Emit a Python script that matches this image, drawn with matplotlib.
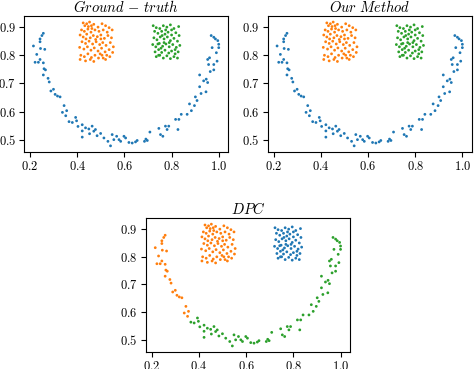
import numpy as np
import matplotlib
matplotlib.use("Agg")
import matplotlib.pyplot as plt

plt.rcParams['font.family'] = 'serif'
plt.rcParams['font.serif'] = ['cmr10']
plt.rcParams['mathtext.fontset'] = 'cm'
plt.rcParams['axes.formatter.use_mathtext'] = True

# arc ("smile") points
arc_x = [0.214, 0.228, 0.221, 0.235, 0.242, 0.242, 0.256, 0.250, 0.244, 0.262,
         0.242, 0.256, 0.259, 0.265, 0.256, 0.276, 0.281, 0.288, 0.299, 0.306,
         0.316, 0.327, 0.344, 0.337, 0.355, 0.351, 0.365, 0.379, 0.393, 0.397,
         0.403, 0.421, 0.421, 0.435, 0.449, 0.463, 0.470, 0.477, 0.421, 0.452,
         0.484, 0.499, 0.513, 0.530, 0.541, 0.548, 0.555, 0.567, 0.577, 0.584,
         0.598, 0.605, 0.619, 0.633, 0.647, 0.654, 0.685, 0.691, 0.697, 0.708,
         0.746, 0.753, 0.763, 0.774, 0.781, 0.788, 0.817, 0.827, 0.831, 0.841,
         0.866, 0.876, 0.884, 0.897, 0.901, 0.908, 0.919, 0.925, 0.936, 0.946,
         0.947, 0.953, 0.919, 0.953, 0.957, 0.961, 0.964, 0.972, 0.979, 0.979,
         0.986, 0.990, 0.993, 1.000, 1.000, 0.968, 0.979, 0.996]
arc_y = [0.833, 0.803, 0.775, 0.775, 0.858, 0.848, 0.878, 0.870, 0.824, 0.821,
         0.785, 0.773, 0.752, 0.748, 0.730, 0.718, 0.705, 0.673, 0.679, 0.661,
         0.655, 0.652, 0.621, 0.597, 0.603, 0.585, 0.564, 0.561, 0.579, 0.567,
         0.547, 0.553, 0.531, 0.542, 0.538, 0.548, 0.530, 0.536, 0.509, 0.521,
         0.514, 0.522, 0.506, 0.494, 0.478, 0.518, 0.500, 0.512, 0.500, 0.494,
         0.512, 0.506, 0.490, 0.488, 0.492, 0.497, 0.494, 0.502, 0.497, 0.527,
         0.540, 0.518, 0.512, 0.548, 0.536, 0.548, 0.572, 0.536, 0.572, 0.590,
         0.590, 0.627, 0.603, 0.621, 0.652, 0.639, 0.688, 0.664, 0.709, 0.670,
         0.715, 0.703, 0.730, 0.785, 0.767, 0.791, 0.742, 0.827, 0.767, 0.748,
         0.858, 0.809, 0.779, 0.839, 0.827, 0.870, 0.864, 0.852]

# upper-left blob
blob1_x = [0.425, 0.432, 0.440, 0.452, 0.460, 0.470, 0.488, 0.505, 0.520, 0.535,
           0.418, 0.430, 0.445, 0.458, 0.475, 0.492, 0.510, 0.527, 0.548, 0.412,
           0.425, 0.440, 0.455, 0.468, 0.485, 0.500, 0.515, 0.530, 0.545, 0.420,
           0.435, 0.450, 0.465, 0.480, 0.495, 0.508, 0.522, 0.540, 0.553, 0.410,
           0.428, 0.443, 0.458, 0.472, 0.488, 0.503, 0.518, 0.535, 0.550, 0.415,
           0.430, 0.445, 0.460, 0.475, 0.490, 0.505, 0.520, 0.538, 0.412, 0.435,
           0.455, 0.470, 0.497, 0.510, 0.525, 0.447, 0.462, 0.478, 0.437, 0.500]
blob1_y = [0.915, 0.905, 0.912, 0.918, 0.905, 0.910, 0.900, 0.912, 0.905, 0.898,
           0.890, 0.885, 0.893, 0.882, 0.890, 0.885, 0.890, 0.882, 0.890, 0.872,
           0.865, 0.875, 0.862, 0.870, 0.866, 0.872, 0.860, 0.870, 0.862, 0.848,
           0.842, 0.850, 0.840, 0.848, 0.838, 0.845, 0.835, 0.845, 0.830, 0.828,
           0.822, 0.830, 0.818, 0.826, 0.815, 0.825, 0.812, 0.820, 0.810, 0.800,
           0.795, 0.805, 0.792, 0.800, 0.790, 0.800, 0.785, 0.795, 0.785, 0.780,
           0.785, 0.778, 0.805, 0.790, 0.800, 0.902, 0.895, 0.856, 0.858, 0.858]

# upper-right blob
blob2_x = [0.722, 0.735, 0.750, 0.765, 0.780, 0.795, 0.810, 0.830, 0.728, 0.742,
           0.758, 0.772, 0.785, 0.800, 0.818, 0.832, 0.725, 0.738, 0.752, 0.768,
           0.782, 0.795, 0.810, 0.825, 0.720, 0.733, 0.748, 0.762, 0.776, 0.790,
           0.805, 0.820, 0.835, 0.730, 0.745, 0.758, 0.772, 0.788, 0.800, 0.815,
           0.828, 0.735, 0.750, 0.765, 0.780, 0.795, 0.810, 0.825, 0.742, 0.768,
           0.755, 0.790, 0.775, 0.760, 0.800, 0.745, 0.815]
blob2_y = [0.905, 0.898, 0.895, 0.905, 0.900, 0.908, 0.895, 0.902, 0.885, 0.878,
           0.885, 0.875, 0.882, 0.872, 0.880, 0.870, 0.862, 0.855, 0.865, 0.858,
           0.865, 0.852, 0.860, 0.850, 0.838, 0.830, 0.842, 0.832, 0.840, 0.830,
           0.838, 0.828, 0.835, 0.812, 0.820, 0.810, 0.818, 0.808, 0.815, 0.805,
           0.812, 0.795, 0.800, 0.790, 0.798, 0.788, 0.795, 0.790, 0.840, 0.845,
           0.825, 0.845, 0.890, 0.870, 0.890, 0.800, 0.820]

colors = ['#1f77b4', '#ff7f0e', '#2ca02c']

x = np.array(arc_x + blob1_x + blob2_x)
y = np.array(arc_y + blob1_y + blob2_y)
n_arc, n_b1, n_b2 = len(arc_x), len(blob1_x), len(blob2_x)

gt = np.array([0] * n_arc + [1] * n_b1 + [2] * n_b2)
ours = gt.copy()
# DPC splits the arc and swaps the right blob
dpc_arc = [1 if v < 0.36 else 2 for v in arc_x]
dpc = np.array(dpc_arc + [1] * n_b1 + [0] * n_b2)

fig = plt.figure(figsize=(4.74, 3.69), dpi=100)
axes = [fig.add_axes([0.051, 0.588, 0.430, 0.369]),
        fig.add_axes([0.565, 0.588, 0.430, 0.369]),
        fig.add_axes([0.308, 0.046, 0.430, 0.363])]
titles = [r'$Ground\,-\,truth$', r'$Our\ Method$', r'$DPC$']

for ax, lab, t in zip(axes, [gt, ours, dpc], titles):
    ax.scatter(x, y, c=[colors[i] for i in lab], s=4, linewidths=0)
    ax.set_title(t, fontsize=10.5, pad=3)
    ax.set_xticks([0.2, 0.4, 0.6, 0.8, 1.0])
    ax.set_yticks([0.5, 0.6, 0.7, 0.8, 0.9])
    ax.tick_params(labelsize=9, length=3.5, pad=2.5)

fig.savefig("out.png", dpi=100)
